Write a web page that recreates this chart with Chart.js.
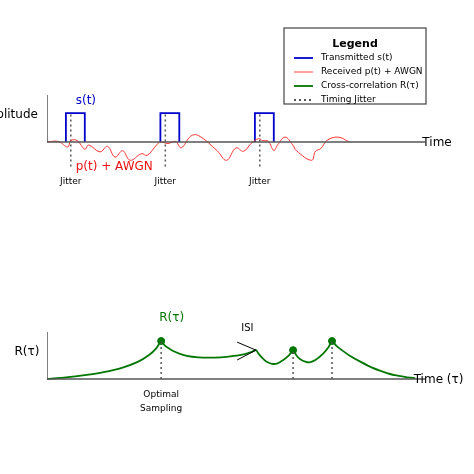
<!DOCTYPE html>
<html><head><meta charset="utf-8">
<script src="https://cdn.jsdelivr.net/npm/chart.js@4"></script>
<style>body{margin:0;background:#fff}canvas{position:absolute;left:0}</style></head>
<body>
<div style="position:absolute;left:0;top:0;width:474px;height:237px"><canvas id="c1"></canvas></div>
<div style="position:absolute;left:0;top:237px;width:474px;height:237px"><canvas id="c2"></canvas></div>
<script>
const pulseStarts = [0.5, 3.0, 5.5];
const pulseWidth = 0.5;
const pulseAmp = 1;
const jitterX = [0.63, 3.13, 5.63];
const noiseX = [0,0.3,0.55,0.63,0.8,1.0,1.1,1.4,1.6,1.8,2.0,2.2,2.5,2.65,2.9,3.0,3.2,3.4,3.55,3.8,4.0,4.5,4.75,5.0,5.2,5.4,5.6,5.7,5.85,6.0,6.1,6.3,6.5,6.6,7.0,7.1,7.25,7.4,7.7,8.0];
const noiseY = [0,0.02,-0.17,0.05,0.05,-0.25,-0.1,-0.34,-0.15,-0.52,-0.3,-0.63,-0.4,-0.46,-0.1,0,-0.05,0.02,-0.2,0.2,0.23,-0.3,-0.63,-0.2,-0.32,-0.05,0.12,0.05,0.03,-0.29,-0.1,0.17,-0.1,-0.3,-0.63,-0.32,-0.22,0.05,0.17,0];
const corrX = [0,0.5,1.0,1.5,2.0,2.4,2.7,2.9,3.02,3.1,3.2,3.35,3.5,3.7,4.0,4.3,4.6,4.9,5.2,5.4,5.53,5.6,5.7,5.8,5.95,6.1,6.25,6.4,6.51,6.6,6.7,6.85,6.95,7.1,7.3,7.45,7.54,7.65,7.8,8.0,8.3,8.6,8.9,9.2,9.5,9.74];
const corrY = [0,0.04,0.1,0.18,0.3,0.45,0.63,0.82,1.0,0.9,0.82,0.73,0.67,0.61,0.57,0.56,0.57,0.6,0.65,0.71,0.76,0.66,0.55,0.46,0.4,0.41,0.5,0.62,0.76,0.62,0.52,0.45,0.44,0.5,0.66,0.84,1.0,0.88,0.76,0.62,0.45,0.3,0.19,0.1,0.05,0.02];
const peakX = [3.02, 6.51, 7.54];
const peakY = [1.0, 0.76, 1.0];
const legendLabels = ['Transmitted s(t)','Received p(t) + AWGN','Cross-correlation R(τ)','Timing Jitter'];
const F = 'DejaVu Sans';

function pulseData(){const d=[];pulseStarts.forEach(s=>{d.push({x:s,y:0},{x:s,y:pulseAmp},{x:s+pulseWidth,y:pulseAmp},{x:s+pulseWidth,y:0},{x:NaN,y:NaN});});return d;}
function vlines(xs,y0,y1){const d=[];xs.forEach((x,i)=>{d.push({x,y:y0},{x,y:y1[i]??y1},{x:NaN,y:NaN});});return d;}
const axisDs=(ymax)=>({data:[{x:0,y:ymax},{x:0,y:0},{x:10,y:0}],borderColor:'#555',borderWidth:1.5,pointRadius:0,tension:0});

function textPlugin(items,extra){return {id:'txt',afterDatasetsDraw(ch){const c=ch.ctx,xs=ch.scales.x,ys=ch.scales.y;c.save();
items.forEach(t=>{c.font=(t.b?'bold ':'')+t.s+'px '+F;c.fillStyle=t.c||'#000';c.textAlign=t.a||'center';c.textBaseline='middle';c.fillText(t.t,xs.getPixelForValue(t.x),ys.getPixelForValue(t.y));});
if(extra)extra(c,xs,ys);c.restore();}};}

const common=(pad,ymin,ymax)=>({responsive:true,maintainAspectRatio:false,animation:false,layout:{padding:pad},
 plugins:{legend:{display:false},tooltip:{enabled:false}},
 scales:{x:{type:'linear',min:0,max:10,display:false},y:{min:ymin,max:ymax,display:false}}});

const topItems=[
 {t:'s(t)',x:0.76,y:1.43,s:12,c:'#0000cc',a:'left'},
 {t:'p(t) + AWGN',x:0.76,y:-0.86,s:12,c:'#ee1111',a:'left'},
 {t:'Amplitude',x:-0.24,y:0.93,s:12,a:'right'},
 {t:'Time',x:9.93,y:-0.04,s:12,a:'left'},
 ...jitterX.map(x=>({t:'Jitter',x,y:-1.38,s:9}))];
function drawLegend(c){c.fillStyle='#fff';c.strokeStyle='#444';c.lineWidth=1.2;c.fillRect(284,28,142,76);c.strokeRect(284,28,142,76);
 c.fillStyle='#000';c.textAlign='center';c.font='bold 11px '+F;c.fillText('Legend',355,44);
 const cols=['#0000cc','#ff4444','#007700','#555'];c.font='9px '+F;c.textAlign='left';
 legendLabels.forEach((l,i)=>{const y=58+i*14;c.beginPath();c.strokeStyle=cols[i];c.lineWidth=i==1?1:1.8;c.setLineDash(i==3?[2,3]:[]);c.moveTo(294,y);c.lineTo(313,y);c.stroke();c.setLineDash([]);c.fillStyle='#000';c.fillText(l,321,y);});}

new Chart(document.getElementById('c1'),{type:'line',data:{datasets:[
 axisDs(1.62),
 {data:noiseX.map((x,i)=>({x,y:noiseY[i]})),borderColor:'#ff3333',borderWidth:1,pointRadius:0,tension:0.4},
 {data:pulseData(),borderColor:'#0000cc',borderWidth:1.8,pointRadius:0,tension:0,spanGaps:false},
 {data:vlines(jitterX,0.95,-0.9),borderColor:'#555',borderWidth:1.5,borderDash:[2,3],pointRadius:0,spanGaps:false}
]},options:common({left:47,right:49,top:80,bottom:37},-2,2.14),plugins:[textPlugin(topItems,drawLegend)]});

const botItems=[
 {t:'R(τ)',x:3.3,y:1.6,s:12,c:'#007700',a:'center'},
 {t:'ISI',x:5.3,y:1.34,s:10},
 {t:'R(τ)',x:-0.2,y:0.72,s:12,a:'right'},
 {t:'Time (τ)',x:9.7,y:-0.03,s:12,a:'left'},
 {t:'Optimal',x:3.02,y:-0.42,s:9},{t:'Sampling',x:3.02,y:-0.79,s:9}];
function arrow(c,xs,ys){c.strokeStyle='#000';c.lineWidth=1;const tx=xs.getPixelForValue(5.53),ty=ys.getPixelForValue(0.76);
 c.beginPath();c.moveTo(xs.getPixelForValue(5.03),ys.getPixelForValue(0.97));c.lineTo(tx,ty);c.lineTo(xs.getPixelForValue(5.03),ys.getPixelForValue(0.5));c.stroke();}

new Chart(document.getElementById('c2'),{type:'line',data:{datasets:[
 axisDs(1.24),
 {data:vlines(peakX,0,peakY),borderColor:'#555',borderWidth:1.5,borderDash:[2,3],pointRadius:0,spanGaps:false},
 {data:corrX.map((x,i)=>({x,y:corrY[i]})),borderColor:'#007700',borderWidth:1.8,pointRadius:0,tension:0.2},
 {data:peakX.map((x,i)=>({x,y:peakY[i]})),showLine:false,pointRadius:3.5,pointBackgroundColor:'#007700',pointBorderColor:'#007700'}
]},options:common({left:47,right:49,top:63,bottom:54},-1.08,2.08),plugins:[textPlugin(botItems,arrow)]});
</script></body></html>
